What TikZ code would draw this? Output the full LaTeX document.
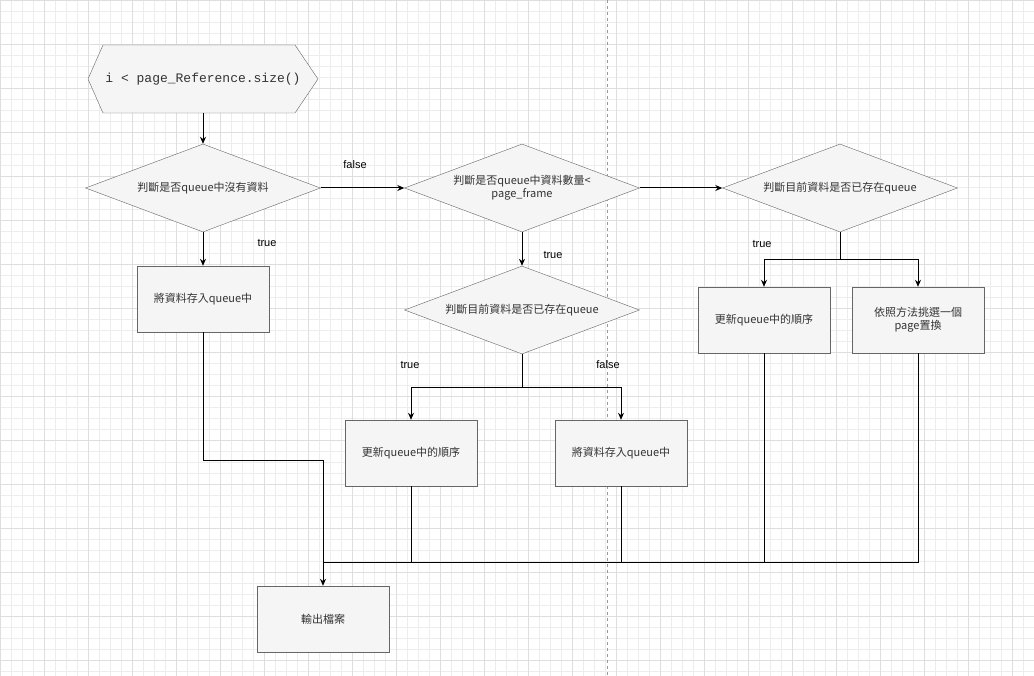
\documentclass[tikz,border=0pt]{standalone}
\usepackage{fontspec}
\setmainfont{Liberation Sans}
\newfontfamily\cjk{Noto Sans CJK TC}
\newfontfamily\mono{Liberation Mono}
\usetikzlibrary{shapes.geometric,arrows.meta}
\definecolor{fillg}{HTML}{F5F5F5}
\definecolor{strk}{HTML}{666666}
\definecolor{txt}{HTML}{333333}
\begin{document}
\begin{tikzpicture}[x=1pt,y=-1pt,
 dia/.style={diamond,draw=strk,fill=fillg,aspect=2.67,minimum width=235pt,minimum height=88pt,inner sep=0pt,font=\cjk\fontsize{11}{13}\selectfont,text=txt,align=center},
 box/.style={rectangle,draw=strk,fill=fillg,minimum width=132pt,minimum height=66pt,font=\cjk\fontsize{11}{13}\selectfont,text=txt,align=center},
 ln/.style={draw=black,line width=1pt},
 ar/.style={ln,-{Stealth[length=7pt,width=6pt]}},
 lab/.style={font=\fontsize{11}{13}\selectfont,text=black}]
\useasboundingbox (0,0) rectangle (1034,676);
\fill[white] (0,0) rectangle (1034,676);
\foreach \x in {0,11,...,1034} \draw[black!7,line width=0.5pt] (\x,0) -- (\x,676);
\foreach \y in {0,11,...,676} \draw[black!7,line width=0.5pt] (0,\y) -- (1034,\y);
\foreach \x in {0,44,...,1034} \draw[black!13,line width=0.6pt] (\x,0) -- (\x,676);
\foreach \y in {0,44,...,676} \draw[black!13,line width=0.6pt] (0,\y) -- (1034,\y);
\draw[black!40,dashed] (607,0) -- (607,676);
% hexagon
\draw[strk,fill=fillg] (88,79) -- (103,45) -- (295,45) -- (318,79) -- (295,113) -- (103,113) -- cycle;
\node[font=\mono\fontsize{13}{15}\selectfont,text=txt] (hex) at (203,79) {i < page\_Reference.size()};
\coordinate (hexb) at (203,113);
\node[dia] (d1) at (203,188) {判斷是否queue中沒有資料};
\node[dia] (d2) at (522,188) {判斷是否queue中資料數量<\\page\_frame};
\node[dia] (d3) at (840,188) {判斷目前資料是否已存在queue};
\node[dia] (d4) at (522,310) {判斷目前資料是否已存在queue};
\node[box] (r1) at (203,299) {將資料存入queue中};
\node[box] (r2) at (411,453) {更新queue中的順序};
\node[box] (r3) at (621,453) {將資料存入queue中};
\node[box] (r4) at (764,320) {更新queue中的順序};
\node[box] (r5) at (918,320) {依照方法挑選一個\\page置換};
\node[box] (r6) at (323,619) {輸出檔案};
\draw[ar] (hexb) -- (d1.north);
\draw[ar] (d1.south) -- (r1.north);
\draw[ar] (d1.east) -- (d2.west);
\draw[ar] (d2.east) -- (d3.west);
\draw[ar] (d2.south) -- (d4.north);
\draw[ar] (d4.south) |- (411,388) -- (r2.north);
\draw[ar] (d4.south) |- (621,388) -- (r3.north);
\draw[ar] (d3.south) |- (764,260) -- (r4.north);
\draw[ar] (d3.south) |- (918,260) -- (r5.north);
\coordinate (m) at (323,562);
\draw[ar] (r1.south) |- (323,460) -- (r6.north);
\draw[ln] (r2.south) |- (m);
\draw[ln] (r3.south) |- (m);
\draw[ln] (r4.south) |- (m);
\draw[ln] (r5.south) |- (m);
\node[lab] (t1) at (267,243) {true};
\node[lab] (f1) at (355,165) {false};
\node[lab] (t2) at (553,255) {true};
\node[lab] (t3) at (410,365) {true};
\node[lab] (f2) at (608,365) {false};
\node[lab] (t4) at (762,244) {true};
\end{tikzpicture}
\end{document}
